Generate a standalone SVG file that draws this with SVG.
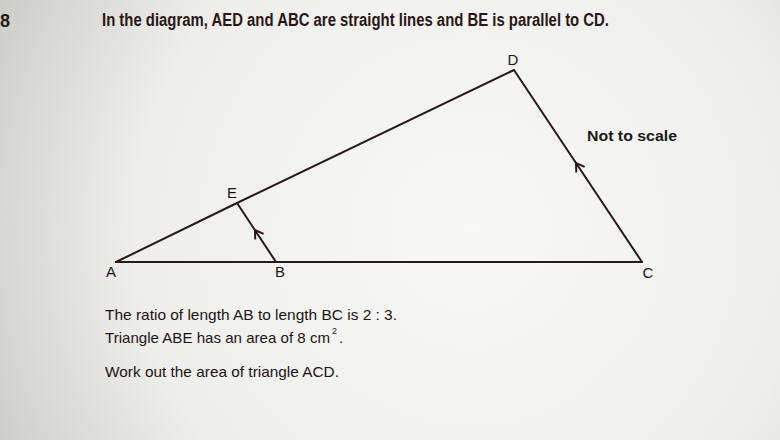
<svg xmlns="http://www.w3.org/2000/svg" width="780" height="440" viewBox="0 0 780 440">
<defs>
<radialGradient id="bg" cx="470" cy="230" r="560" gradientUnits="userSpaceOnUse">
<stop offset="0" stop-color="#f8f8f6"/>
<stop offset="0.6" stop-color="#eeeeec"/>
<stop offset="1" stop-color="#c6c6c2"/>
</radialGradient>
<path id="chev" d="M-5,8 L0,0 L5,8" fill="none" stroke="#2b1818" stroke-width="2" stroke-linejoin="miter"/>
</defs>
<style>
.ln{stroke:#2b1818;stroke-width:2;fill:none;stroke-linecap:round}
.lbl{font-family:"Liberation Sans",Arial,sans-serif;font-size:15px;fill:#1e1414;text-anchor:middle}
.hd{font-family:"Liberation Sans",Arial,sans-serif;font-weight:bold;font-size:18px;fill:#2a1616}
.body{font-family:"Liberation Sans",Arial,sans-serif;font-size:15px;fill:#221414}
.sup{font-family:"Liberation Sans",Arial,sans-serif;font-size:9px;fill:#221414}
.note{font-family:"Liberation Sans",Arial,sans-serif;font-weight:bold;font-size:15px;fill:#1a1a18}
</style>
<rect x="0" y="0" width="780" height="440" fill="url(#bg)"/>
<text class="hd" x="0" y="27">8</text>
<text class="hd" x="102" y="26" textLength="507" lengthAdjust="spacingAndGlyphs">In the diagram, AED and ABC are straight lines and BE is parallel to CD.</text>
<g id="connectors">
<line id="AE" class="ln" x1="116" y1="262" x2="237" y2="203"/>
<line id="ED" class="ln" x1="237" y1="203" x2="514" y2="70"/>
<line id="AB" class="ln" x1="116" y1="262" x2="276" y2="262"/>
<line id="BC" class="ln" x1="276" y1="262" x2="642" y2="262"/>
<line id="BE" class="ln" x1="276" y1="262" x2="237" y2="203"/>
<line id="CD" class="ln" x1="642" y1="262" x2="514" y2="70"/>
<use href="#chev" transform="translate(255,230) rotate(-33.5)"/>
<use href="#chev" transform="translate(576,163) rotate(-33.7)"/>
</g>
<g id="A"><text class="lbl" x="111" y="277">A</text></g>
<g id="B"><text class="lbl" x="280" y="277">B</text></g>
<g id="C"><text class="lbl" x="648" y="278">C</text></g>
<g id="D"><text class="lbl" x="513" y="65">D</text></g>
<g id="E"><text class="lbl" x="232" y="198">E</text></g>
<text class="note" x="587" y="141" textLength="90" lengthAdjust="spacingAndGlyphs">Not to scale</text>
<text class="body" x="105" y="320" textLength="292" lengthAdjust="spacingAndGlyphs">The ratio of length AB to length BC is 2 : 3.</text>
<text class="body" x="105" y="343" textLength="225" lengthAdjust="spacingAndGlyphs">Triangle ABE has an area of 8 cm</text>
<text class="sup" x="332" y="334">2</text>
<text class="body" x="339" y="343">.</text>
<text class="body" x="105" y="377" textLength="234" lengthAdjust="spacingAndGlyphs">Work out the area of triangle ACD.</text>
</svg>
